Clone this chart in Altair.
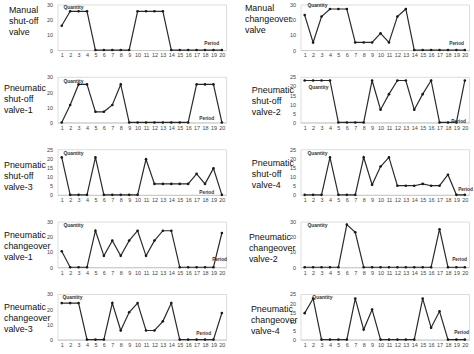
import altair as alt
import pandas as pd

periods = list(range(1, 21))

labels = [
    ["Manual", "shut-off", "valve"],
    ["Manual", "changeover", "valve"],
    ["Pneumatic", "shut-off", "valve-1"],
    ["Pneumatic", "shut-off", "valve-2"],
    ["Pneumatic", "shut-off", "valve-3"],
    ["Pneumatic", "shut-off", "valve-4"],
    ["Pneumatic", "changeover", "valve-1"],
    ["Pneumatic", "changeover", "valve-2"],
    ["Pneumatic", "changeover", "valve-3"],
    ["Pneumatic", "changeover", "valve-4"],
]

v1 = [16, 25.5, 25.5, 25.5, 0, 0, 0, 0, 0, 25.5, 25.5, 25.5, 25.5, 0, 0, 0, 0, 0, 0, 0]
v2 = [23, 5, 22, 27, 27, 27, 5, 5, 5, 11, 5, 22, 27, 0, 0, 0, 0, 0, 0, 0]
v3 = [0, 11.5, 25, 25, 7, 7, 11.5, 25, 0, 0, 0, 0, 0, 0, 0, 0, 25, 25, 25, 0]
v4 = [23, 23, 23, 23, 0, 0, 0, 0, 23, 7, 15.5, 23, 23, 7, 15.5, 23, 0, 0, 0, 23]
v5 = [20.5, 0, 0, 0, 20.5, 0, 0, 0, 0, 0, 19.5, 6, 6, 6, 6, 6, 11.5, 6, 14.5, 0]
v6 = [0, 0, 0, 20.5, 0, 0, 0, 20.5, 5.5, 15.5, 20.5, 5, 5, 5, 6, 5, 5, 11, 0, 0]
v7 = [10.5, 0, 0, 0, 24, 7.5, 17.5, 7.5, 17.5, 24, 7.5, 17.5, 24, 24, 0, 0, 0, 0, 0, 22.5]
v8 = [0, 0, 0, 0, 0, 28, 23, 0, 0, 0, 0, 0, 0, 0, 0, 0, 25, 0, 0, 0]
v9 = [24, 24, 24, 0, 0, 0, 24, 6, 18, 24, 6, 6, 12, 24, 0, 0, 0, 0, 0, 17.5]
v10 = [14.5, 22.5, 0, 0, 0, 0, 22.5, 5.5, 16.5, 0, 0, 0, 0, 0, 22.5, 6.5, 15.5, 0, 0, 0]
series = [v1, v2, v3, v4, v5, v6, v7, v8, v9, v10]

y_max = [30, 30, 30, 25, 25, 25, 30, 30, 30, 25]

# styling / placement (pixels relative to each plot area)
W, H = 170, 46
LH = 11
label_dx = [-49, -56, -54, -49, -54, -49, -54, -52, -54, -50]
label_dy = [17, 15, 22, 24, 27, 25, 25, 27, 24, 26]   # centre of the middle line
qty_pos = [(6, 3), (7, 1), (6, 4), (8, 10), (6, 4), (7, 4), (6, 3), (7, 3), (5, 3), (12, 3)]
per_pos = [(148, -6), (150, -6), (143, -3), (152, 0), (143, -2), (159, -5), (156, -7), (153, -7), (140, -6), (155, -7)]

FONT = "Liberation Sans"


def panel(i):
    df = pd.DataFrame({"period": periods, "qty": series[i]})
    ym = y_max[i]
    step = 10 if ym == 30 else 5
    x = alt.X("period:Q", scale=alt.Scale(domain=[0.5, 20.5], nice=False),
              axis=alt.Axis(values=periods, title=None, grid=False, ticks=False,
                            domain=True, domainColor="#c8c8c8", domainWidth=1,
                            labelFontSize=5.5, labelColor="#444", labelPadding=3,
                            labelFont=FONT, labelFlush=False))
    y = alt.Y("qty:Q", scale=alt.Scale(domain=[0, ym], nice=False),
              axis=alt.Axis(values=list(range(0, ym + 1, step)), title=None, grid=False,
                            ticks=False, domain=False, labelFontSize=5.5, labelColor="#444",
                            labelPadding=5, labelFont=FONT))
    line = alt.Chart(df).mark_line(
        color="#2a2a2a", strokeWidth=1.2,
        point=alt.OverlayMarkDef(filled=True, size=7, color="#1a1a1a")
    ).encode(x=x, y=y)

    one = pd.DataFrame({"a": [0]})
    lab = alt.Chart(one).mark_text(
        align="left", baseline="middle", fontSize=9, font=FONT, color="#111",
        lineHeight=LH
    ).encode(x=alt.value(label_dx[i]), y=alt.value(label_dy[i] - LH),
             text=alt.value(labels[i]))
    qx, qy = qty_pos[i]
    qty = alt.Chart(one).mark_text(
        align="left", baseline="middle", fontSize=5, font=FONT, fontWeight="bold", color="#333"
    ).encode(x=alt.value(qx), y=alt.value(qy), text=alt.value("Quantity"))
    px, py = per_pos[i]
    per = alt.Chart(one).mark_text(
        align="left", baseline="middle", fontSize=4.8, font=FONT, fontWeight="bold", color="#333"
    ).encode(x=alt.value(px), y=alt.value(H + py), text=alt.value("Period"))
    return alt.layer(line, lab, qty, per).properties(width=W, height=H)


chart = alt.concat(*[panel(i) for i in range(10)], columns=2,
                   spacing={"row": 27, "column": 75}, bounds="flush").properties(
    padding={"left": 3, "top": 0, "right": 0, "bottom": 0}
).configure_view(stroke=None).configure(background="white")

chart.save("out.html", embed_options={"renderer": "svg", "actions": False})
